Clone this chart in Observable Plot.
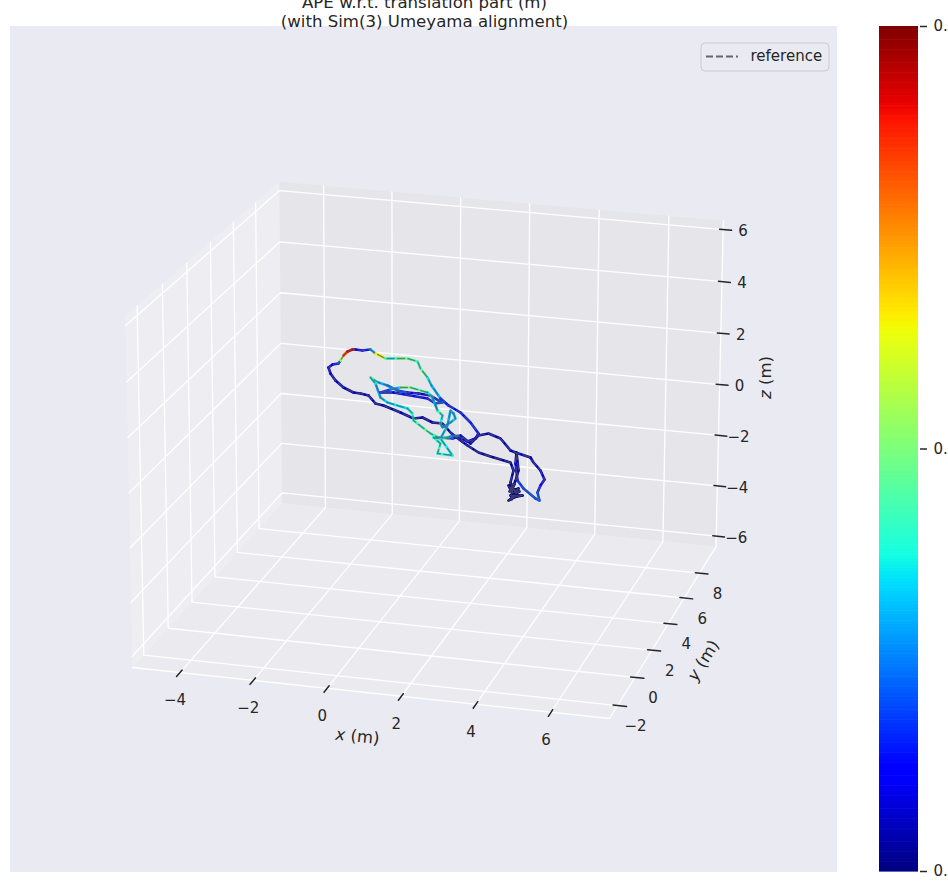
<!DOCTYPE html>
<html><head><meta charset="utf-8">
<script src="https://cdn.jsdelivr.net/npm/d3@7"></script>
<script src="https://cdn.jsdelivr.net/npm/@observablehq/plot@0.6"></script>
<style>html,body{margin:0;padding:0;background:#fff;overflow:hidden}svg{display:block}</style>
</head><body><div id="chart"></div>
<script>
// tick values (metres)
const xTicks = [-4, -2, 0, 2, 4, 6];
const yTicks = [-2, 0, 2, 4, 6, 8];
const zTicks = [-6, -4, -2, 0, 2, 4, 6];
const xLim = [-5.3, 7.55], yLim = [-2.9, 10.2], zLim = [-6.42, 6.34];
const cbTicks = [0, 0.5, 1];
const titleLines = ["APE w.r.t. translation part (m)", "(with Sim(3) Umeyama alignment)"];

// trajectory as read in the view plane, with its normalised error
const trackU = [512,508,514,509,518,510,522,512,508,517,511,516,509,519,513,511,512,510,513,510,500,490,478,467,460,450,442,432,422,413,400,383,375,368,360,353,343,335,330,328,332,338,340,343,347,352,355,362,370,375,385,397,407,417,420,427,431,440,448,460,470,478,475,467,458,452,438,430,422,413,412,407,387,380,375,370,378,387,397,407,418,430,438,442,435,427,393,380,390,400,410,427,432,437,442,440,442,450,455,453,450,447,440,433,440,437,452,440,450,460,470,478,488,500,510,515,530,533,540,544,540,537,539,535,523,517,515,516,518,515,512];
const trackV = [492,485,484,491,488,495,495,497,500,495,486,492,487,491,494,499,488,482,470,462,459,456,452,445,440,432,423,422,417,418,412,405,403,395,393,392,387,380,373,367,364,363,360,355,351,349,349,350,349,353,358,358,358,361,368,377,385,398,405,412,422,433,438,441,436,438,437,433,427,420,413,408,402,397,383,377,382,385,390,392,393,395,400,402,403,398,392,392,389,387,387,392,397,410,415,423,427,422,418,413,410,425,438,437,443,453,455,438,436,435,443,435,433,438,450,452,457,462,470,479,485,492,500,498,488,480,463,452,470,480,488];
const trackE = [.01,.01,.01,.01,.02,.01,.02,.01,.01,.01,.01,.01,.01,.01,.01,.01,.01,.02,.03,.03,.03,.03,.03,.04,.04,.04,.04,.05,.04,.06,.04,.05,.06,.05,.06,.05,.07,.06,.08,.09,.1,.2,.55,.85,.93,.97,.12,.15,.3,.65,.38,.48,.45,.42,.45,.35,.3,.15,.13,.15,.15,.12,.09,.08,.08,.2,.42,.45,.42,.38,.38,.35,.33,.3,.35,.42,.3,.25,.2,.12,.08,.1,.18,.22,.15,.12,.08,.18,.3,.5,.45,.35,.3,.42,.36,.3,.3,.32,.32,.3,.3,.32,.35,.38,.4,.38,.36,.4,.25,.08,.05,.05,.05,.05,.04,.05,.06,.06,.08,.1,.14,.2,.22,.2,.18,.12,.05,.04,.03,.03,.01];

const jetR = d3.scaleLinear([0,.35,.66,.89,1],[0,0,1,1,.5]);
const jetG = d3.scaleLinear([0,.125,.375,.64,.91,1],[0,0,1,1,0,0]);
const jetB = d3.scaleLinear([0,.11,.34,.65,1],[.5,1,1,0,0]);
const jet = t => d3.rgb(255*jetR(t),255*jetG(t),255*jetB(t)).formatRgb();

// camera: images of box corners and their homogeneous weights
const cam = {O:[132,667],A:[609,718],B:[281.7,502.7],C:[125,315.5],wA:.982,wB:1.104,wC:.975};
function project(x,y,z){
  const a=(x-xLim[0])/(xLim[1]-xLim[0]), b=(y-yLim[0])/(yLim[1]-yLim[0]), c=(z-zLim[0])/(zLim[1]-zLim[0]);
  const w=1+a*(cam.wA-1)+b*(cam.wB-1)+c*(cam.wC-1);
  const f=i=>(cam.O[i]+a*(cam.wA*cam.A[i]-cam.O[i])+b*(cam.wB*cam.B[i]-cam.O[i])+c*(cam.wC*cam.C[i]-cam.O[i]))/w;
  return {u:f(0),v:f(1)};
}
const [x0,x1]=xLim,[y0,y1]=yLim,[z0,z1]=zLim;
const pane=(pts)=>pts.map(p=>project(...p));
const leftWall=pane([[x0,y0,z0],[x0,y1,z0],[x0,y1,z1],[x0,y0,z1]]);
const backWall=pane([[x0,y1,z0],[x1,y1,z0],[x1,y1,z1],[x0,y1,z1]]);
const floorPane=pane([[x0,y0,z0],[x1,y0,z0],[x1,y1,z0],[x0,y1,z0]]);

const grid=[];
const push=(id,pts)=>pts.forEach(p=>grid.push({id,...project(...p)}));
xTicks.forEach(x=>push("x"+x,[[x,y0,z0],[x,y1,z0],[x,y1,z1]]));
yTicks.forEach(y=>push("y"+y,[[x1,y,z0],[x0,y,z0],[x0,y,z1]]));
zTicks.forEach(z=>push("z"+z,[[x1,y1,z],[x0,y1,z],[x0,y0,z]]));
push("ax",[[x0,y0,z0],[x1,y0,z0],[x1,y1,z0],[x1,y1,z1]]);

const ticks=[];
const pushT=(id,pts)=>pts.forEach(p=>ticks.push({id,...project(...p)}));
xTicks.forEach(x=>pushT("x"+x,[[x,y0+.18,z0],[x,y0-.28,z0]]));
yTicks.forEach(y=>pushT("y"+y,[[x1-.12,y,z0],[x1+.24,y,z0]]));
zTicks.forEach(z=>pushT("z"+z,[[x1-.1,y1,z],[x1+.24,y1,z]]));

const fmt=v=>String(v).replace("-","\u2212");
const xLabels=xTicks.map(x=>({...project(x,y0,z0),t:fmt(x)}));
const yLabels=yTicks.map(y=>({...project(x1,y,z0),t:fmt(y)}));
const zLabels=zTicks.map(z=>({...project(x1,y1,z),t:fmt(z)}));

const track=trackU.map((u,i)=>({u,v:trackV[i],e:trackE[i]}));

// colour bar geometry
const cb={x1:879,x2:918,top:26,bottom:871};
const cbY=t=>cb.bottom+(cb.top-cb.bottom)*t;
const levels=d3.range(256).map(i=>({e:(i+.5)/256,y1:cbY(i/256)+.6,y2:cbY((i+1)/256)}));

const ink="#262626", font="'DejaVu Sans'";
const line=(d,o)=>Plot.line(d,{x:"u",y:"v",...o});
const chart=Plot.plot({
  width:948,height:882,margin:0,
  style:{background:"#fff",fontFamily:font},
  x:{domain:[0,948],range:[0,948],axis:null},
  y:{domain:[0,882],range:[0,882],axis:null},
  color:{type:"linear",domain:[0,1],interpolate:jet},
  marks:[
    Plot.rect([{}],{x1:()=>10,x2:()=>837,y1:()=>26,y2:()=>872,fill:"#EAEAF2"}),
    line(leftWall,{fill:"#EEEEF2",stroke:"none"}),
    line(backWall,{fill:"#E6E6EA",stroke:"none"}),
    line(floorPane,{fill:"#EBEBEF",stroke:"none"}),
    line(grid,{z:"id",stroke:"#fff",strokeWidth:1.3}),
    line(ticks,{z:"id",stroke:ink,strokeWidth:1.5}),
    Plot.text(xLabels,{x:"u",y:"v",text:"t",dx:-5,dy:28,fontSize:15,fill:ink}),
    Plot.text(yLabels,{x:"u",y:"v",text:"t",dx:18,dy:21,fontSize:15,fill:ink}),
    Plot.text(zLabels,{x:"u",y:"v",text:"t",dx:20,dy:2,fontSize:15,fill:ink}),
    line(track,{z:null,stroke:"e",strokeWidth:2.6,strokeLinejoin:"round",strokeLinecap:"round"}),
    line(track,{stroke:"#555",strokeWidth:1.4,strokeOpacity:.7,strokeDasharray:"7,3.5"}),
    Plot.text(["x (m)"],{x:()=>357,y:()=>736,text:d=>d,rotate:6,fontSize:16.5,fill:ink,className:"axlabel"}),
    Plot.text(["y (m)"],{x:()=>703,y:()=>660,text:d=>d,rotate:-58,fontSize:16.5,fill:ink,className:"axlabel"}),
    Plot.text(["z (m)"],{x:()=>765,y:()=>377,text:d=>d,rotate:-90,fontSize:16.5,fill:ink,className:"axlabel"}),
    Plot.text(titleLines,{x:()=>424,y:(d,i)=>[2,21][i],text:d=>d,fontSize:16.6,fill:ink}),
    Plot.rect([{}],{x1:()=>701,x2:()=>829,y1:()=>43,y2:()=>71,rx:4,fill:"#EAEAF2",fillOpacity:.8,stroke:"#CCCCCC"}),
    Plot.ruleY([56],{x1:706,x2:738,stroke:"#666",strokeWidth:2,strokeDasharray:"7,3"}),
    Plot.text(["reference"],{x:()=>750,y:()=>56,text:d=>d,textAnchor:"start",fontSize:15,fill:ink}),
    Plot.rect(levels,{x1:()=>cb.x1,x2:()=>cb.x2,y1:"y1",y2:"y2",fill:"e"}),
    Plot.ruleY(cbTicks,{y:cbY,x1:920,x2:927,stroke:ink,strokeWidth:1.5}),
    Plot.text(cbTicks,{x:()=>933,y:cbY,text:()=>"0.",textAnchor:"start",fontSize:15,fill:ink})
  ]
});
d3.select(chart).selectAll(".axlabel text").each(function(){
  const s=this.textContent; const el=d3.select(this); el.text("");
  el.append("tspan").attr("font-style","italic").text(s[0]);
  el.append("tspan").text(s.slice(1));
});
document.getElementById("chart").append(chart);
</script></body></html>
